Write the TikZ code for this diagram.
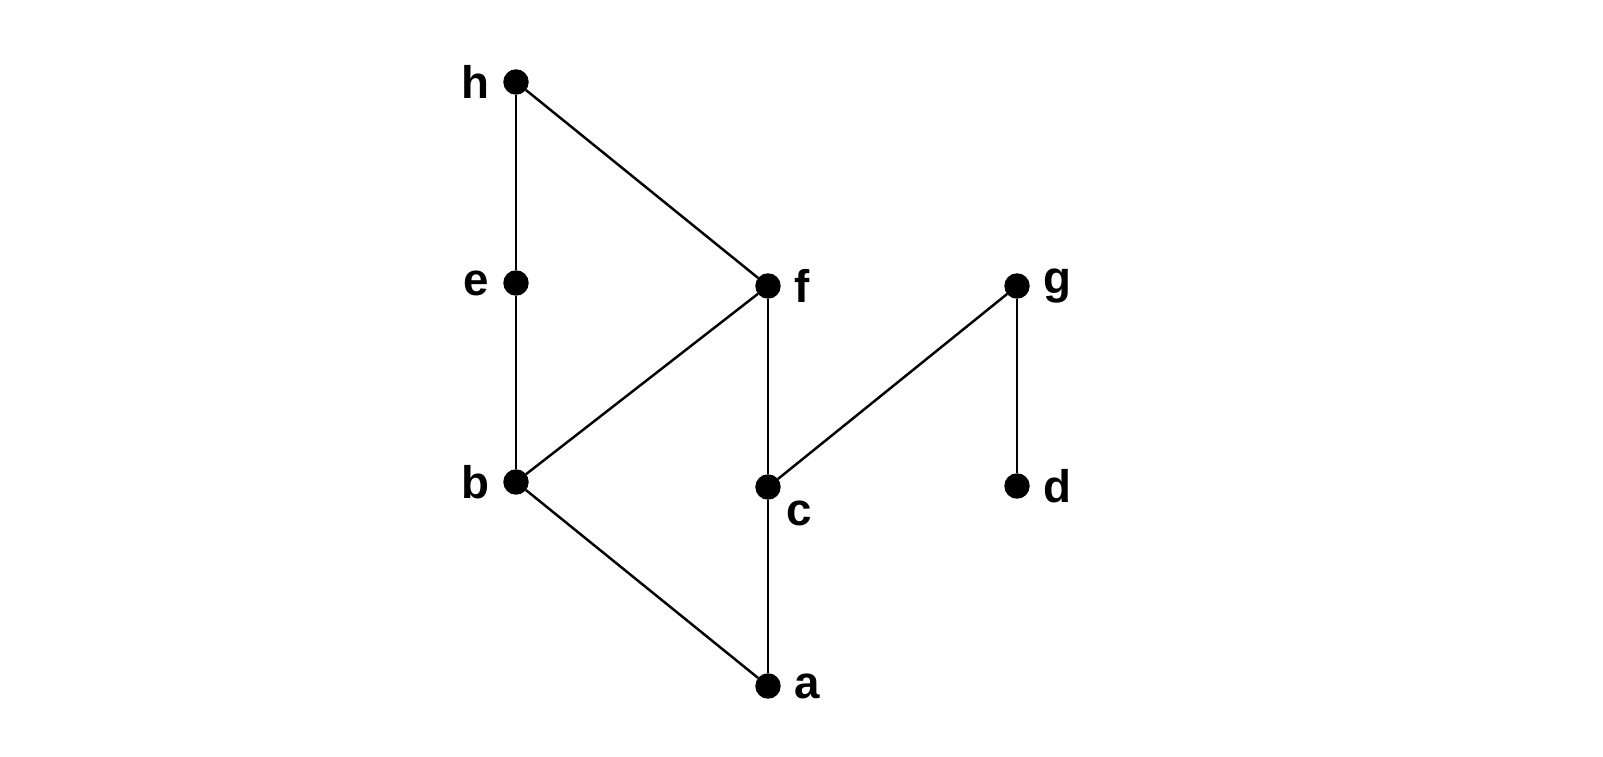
\documentclass[tikz,border=0pt]{standalone}
\usepackage{fontspec}
\setmainfont{Liberation Sans}
\usepackage{tikz}

\begin{document}
\begin{tikzpicture}[
    vertex/.style={circle,fill=black,draw=black,inner sep=0pt,minimum size=0.24cm},
    every label/.style={font=\fontsize{13}{15}\selectfont\bfseries,inner sep=1pt,label distance=0.1cm},
    edge/.style={draw=black,line width=0.7pt}]
  \useasboundingbox (0,0) rectangle (16.03,7.56);
  \node[vertex,label=left:h] (h) at (5.16,6.74) {};
  \node[vertex,label=left:e] (e) at (5.16,4.73) {};
  \node[vertex,label=left:b] (b) at (5.16,2.74) {};
  \node[vertex,label=right:f] (f) at (7.68,4.70) {};
  \node[vertex,label={[label distance=0.05cm]-35:c}] (c) at (7.68,2.69) {};
  \node[vertex,label=right:a] (a) at (7.68,0.70) {};
  \node[vertex,label=right:g] (g) at (10.17,4.70) {};
  \node[vertex,label=right:d] (d) at (10.17,2.70) {};
  \foreach \u/\v in {h/e,e/b,h/f,b/f,f/c,c/a,b/a,c/g,g/d}
  	\draw[edge] (\u) -- (\v);
\end{tikzpicture}
\end{document}
